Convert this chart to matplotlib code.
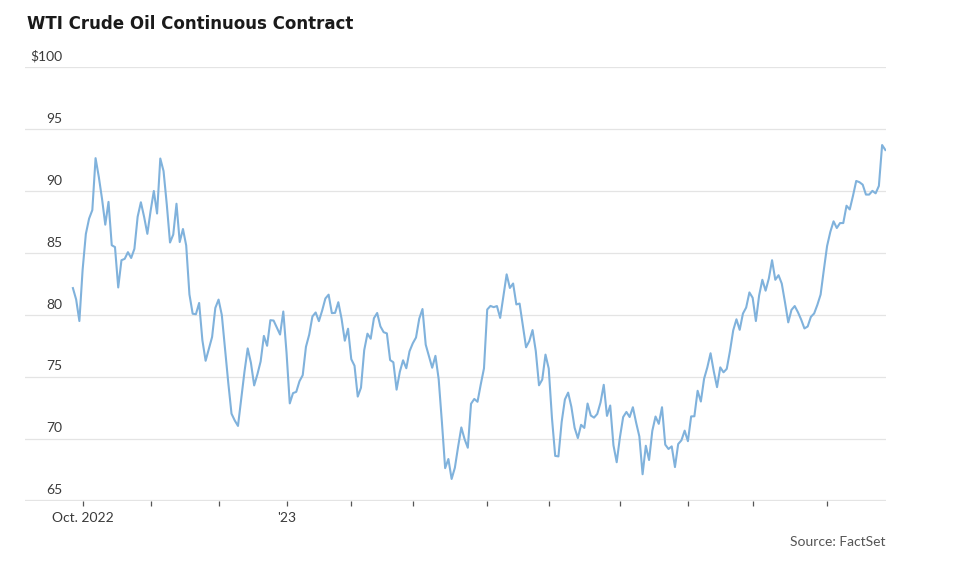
import numpy as np
import pandas as pd
import matplotlib
matplotlib.use("Agg")
import matplotlib.pyplot as plt
import matplotlib.transforms as mtransforms

# WTI continuous contract, daily settle, one value per trading day
sep22 = [82.15, 81.23, 79.49]
oct22 = [83.63, 86.52, 87.76, 88.45, 92.64, 91.13, 89.35, 87.27, 89.11, 85.61, 85.46,
         82.2, 84.4, 84.51, 85.05, 84.58, 85.32, 87.91, 89.08, 87.90, 86.53]
nov22 = [88.37, 89.99, 88.17, 92.61, 91.6, 88.91, 85.83, 86.47, 88.96, 85.87, 86.92,
         85.59, 81.64, 80.08, 80.04, 80.95, 77.94, 76.28, 77.24, 78.20, 80.55]
dec22 = [81.22, 79.98, 77.2, 74.5, 72.01, 71.46, 71.02, 73.17, 75.39, 77.28, 76.11,
         74.29, 75.19, 76.23, 78.29, 77.49, 79.56, 79.53, 78.96, 78.40, 80.26]
jan23 = [76.93, 72.84, 73.67, 73.77, 74.63, 75.12, 77.41, 78.39, 79.86, 80.18,
         79.48, 80.33, 81.31, 81.62, 80.13, 80.15, 81.01, 79.68, 77.90, 78.87]
feb23 = [76.41, 75.88, 73.39, 74.11, 77.14, 78.47, 78.06, 79.72, 80.14, 79.06,
         78.59, 78.49, 76.34, 76.16, 73.95, 75.39, 76.32, 75.68, 77.05]
mar23 = [77.69, 78.16, 79.68, 80.46, 77.58, 76.66, 75.72, 76.68, 74.80, 71.33, 67.61,
         68.35, 66.74, 67.64, 69.33, 70.90, 69.96, 69.26, 72.81, 73.20, 72.97, 74.37, 75.67]
apr23 = [80.42, 80.71, 80.61, 80.70, 79.74, 81.53, 83.26, 82.16, 82.52, 80.83,
         80.9, 79.16, 77.37, 77.87, 78.76, 77.07, 74.30, 74.76, 76.78]
may23 = [75.66, 71.66, 68.60, 68.56, 71.34, 73.16, 73.71, 72.56, 70.87, 70.04, 71.11,
         70.86, 72.83, 71.86, 71.69, 71.99, 72.91, 74.34, 71.83, 72.67, 69.46, 68.09]
jun23 = [70.10, 71.74, 72.15, 71.74, 72.53, 71.29, 70.17, 67.12, 69.42, 68.27, 70.62,
         71.78, 71.19, 72.53, 69.51, 69.16, 69.37, 67.70, 69.56, 69.86, 70.64]
jul23 = [69.79, 71.79, 71.80, 73.86, 72.99, 74.83, 75.75, 76.89, 75.42, 74.15,
         75.75, 75.35, 75.63, 77.07, 78.74, 79.63, 78.78, 80.09, 80.58, 81.80]
aug23 = [81.37, 79.49, 81.55, 82.82, 81.94, 82.92, 84.40, 82.82, 83.19, 82.51, 80.99,
         79.38, 80.39, 80.7, 80.2, 79.6, 78.89, 79.05, 79.83, 80.10, 80.8, 81.63, 83.63]
sep23 = [85.55, 86.69, 87.54, 87.0, 87.4, 87.4, 88.8, 88.5, 89.6, 90.8,
         90.7, 90.5, 89.7, 89.7, 90.0, 89.8, 90.4, 93.7, 93.3]

holidays = ["2022-11-24", "2022-12-26", "2023-01-02", "2023-01-16", "2023-02-20",
            "2023-04-07", "2023-05-29", "2023-06-19", "2023-07-04", "2023-09-04"]

prices = np.array(sep22 + oct22 + nov22 + dec22 + jan23 + feb23 + mar23 + apr23
                  + may23 + jun23 + jul23 + aug23 + sep23)
dates = pd.bdate_range("2022-09-28", "2023-09-28")
dates = dates[~dates.isin(pd.to_datetime(holidays))]

x = np.arange(len(prices))
month_start = np.where(dates.month != np.roll(dates.month, 1))[0]
month_start = month_start[month_start > 0]

yticks = [65, 70, 75, 80, 85, 90, 95, 100]
ylabels = ["65", "70", "75", "80", "85", "90", "95", "$100"]

fig = plt.figure(figsize=(9.6, 5.71), dpi=100)
ax = fig.add_axes([25 / 960, 1 - 500.5 / 571, 861 / 960, 433.5 / 571])

ax.plot(x, prices, color="#80b2dc", lw=1.5, solid_joinstyle="round")

ax.set_ylim(65, 100)
ax.set_xlim(-14.8, 251.2)
ax.set_yticks(yticks)
ax.set_yticklabels([])
ax.grid(axis="y", color="#e4e4e4", lw=0.9)
ax.tick_params(axis="y", length=0)
for s in ax.spines.values():
    s.set_visible(False)

# y labels sit on top of their grid lines, at the left
off = mtransforms.offset_copy(ax.get_yaxis_transform(), fig=fig, x=0, y=3, units="points")
for v, lab in zip(yticks, ylabels):
    ax.text(0.043, v, lab, transform=off, ha="right", va="bottom",
            fontsize=10, family="Lato", color="#3a3a3a")

xlabels = [""] * len(month_start)
xlabels[0] = "Oct. 2022"
xlabels[3] = "'23"
ax.set_xticks(month_start)
ax.set_xticklabels(xlabels, fontsize=10, family="Lato", color="#3a3a3a")
ax.tick_params(axis="x", direction="out", length=3.5, width=0.9, color="#555555", pad=5)

fig.text(27 / 960, 1 - 24 / 571, "WTI Crude Oil Continuous Contract", ha="left", va="center",
         fontsize=12, fontweight="heavy", family="DejaVu Sans", color="#1a1a1a")
fig.text(886 / 960, 1 - 542 / 571, "Source: FactSet", ha="right", va="center",
         fontsize=10, family="Lato", color="#555555")

fig.savefig("out.png", dpi=100)
